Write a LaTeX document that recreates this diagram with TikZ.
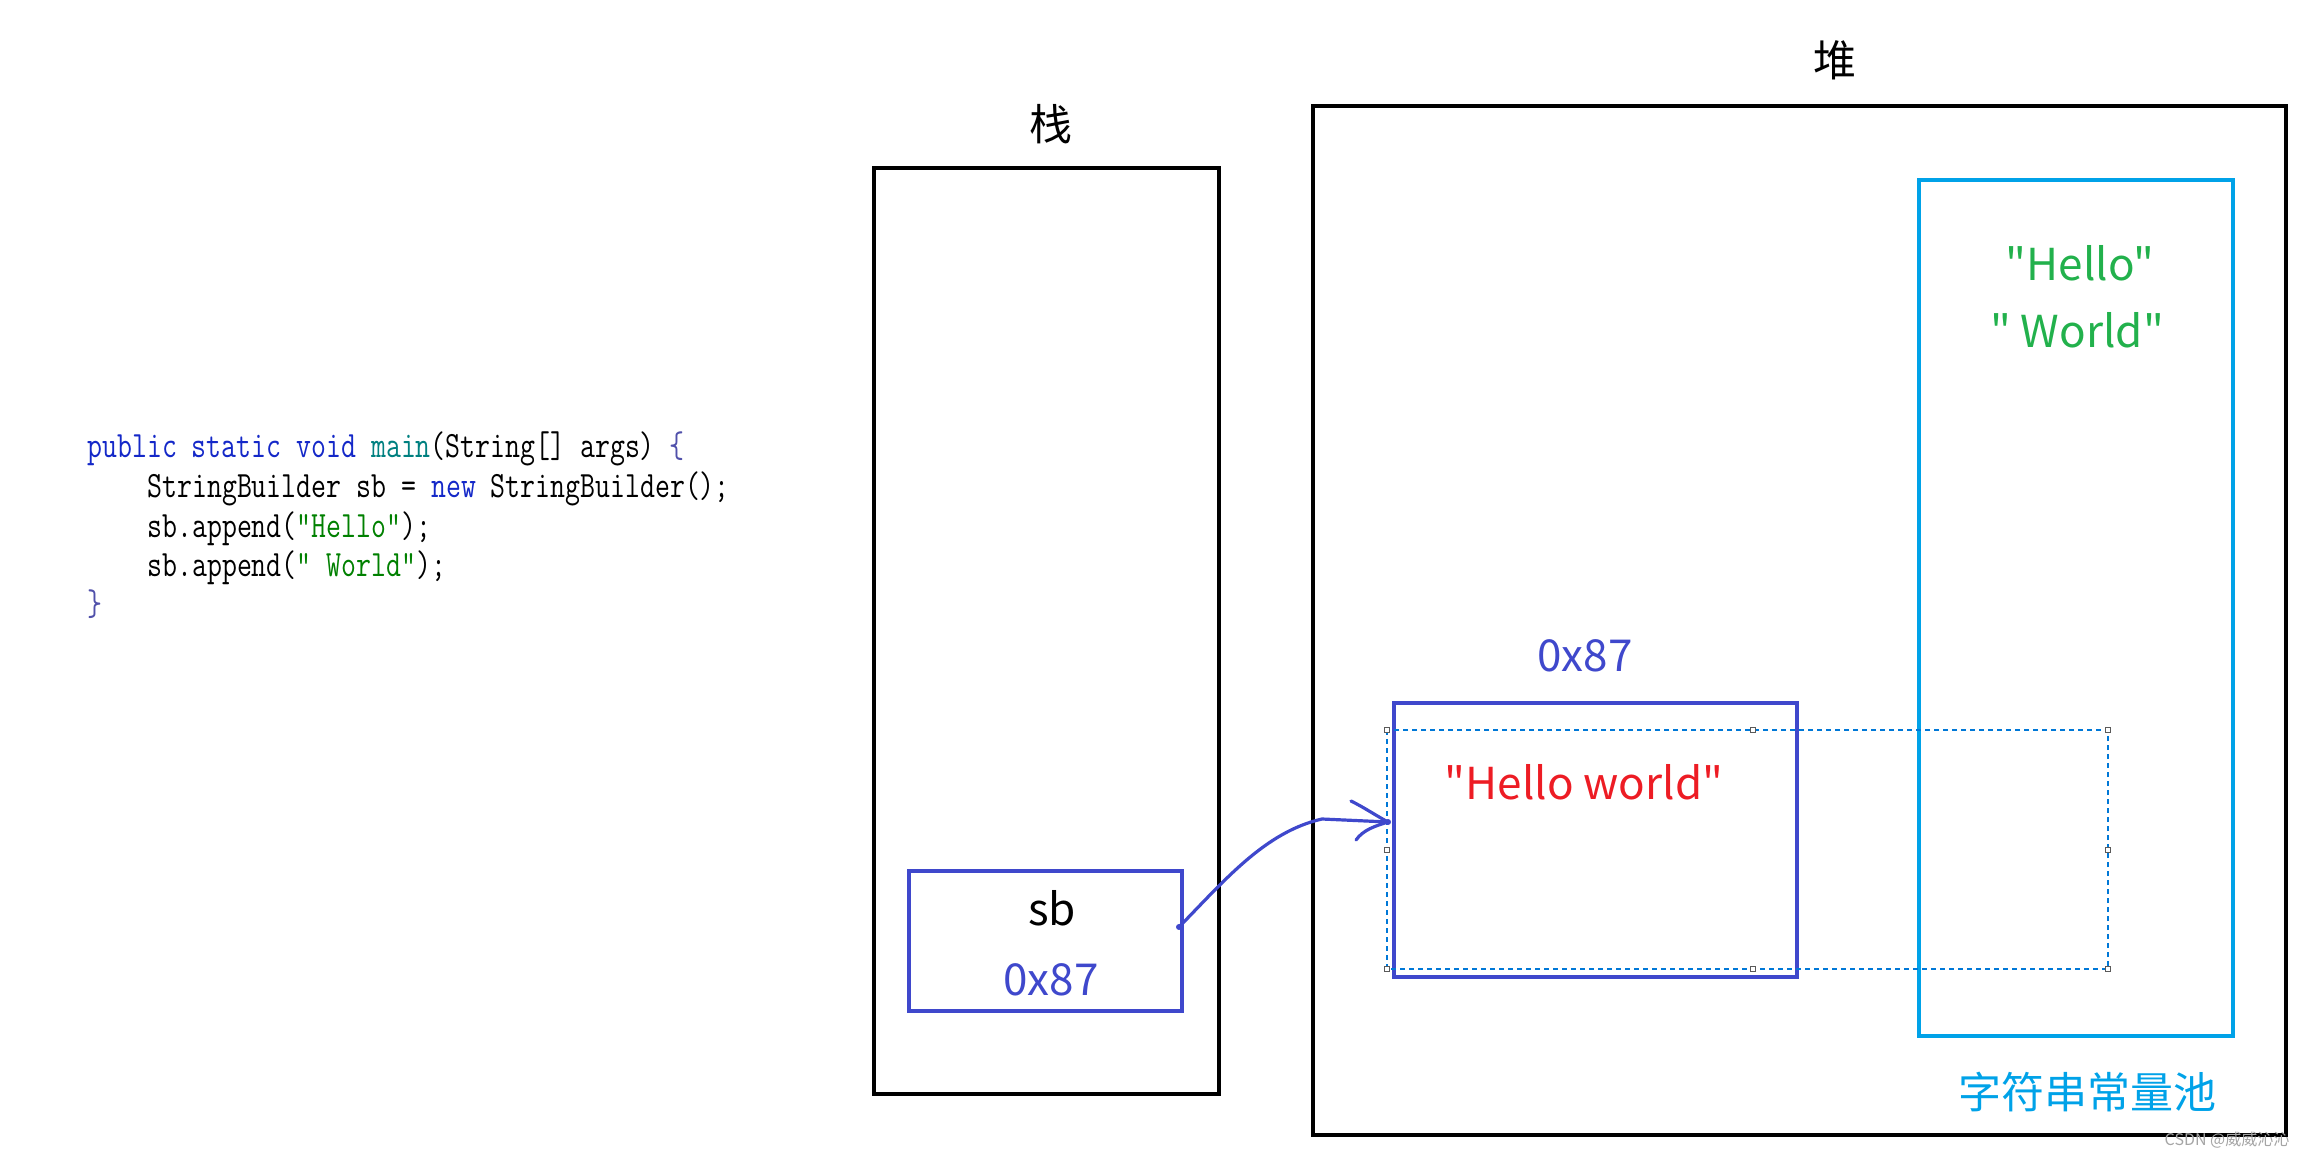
\documentclass[tikz,border=0pt]{standalone}
\usepackage{fontspec}
\usepackage{graphicx}
\setmainfont{Noto Sans CJK SC}[Ligatures=TeXOff]
\definecolor{objblue}{RGB}{63,72,204}
\definecolor{poolcyan}{RGB}{0,162,232}
\definecolor{strred}{RGB}{237,28,36}
\definecolor{strgreen}{RGB}{34,177,76}
\definecolor{kwblue}{RGB}{20,40,200}
\definecolor{kwteal}{RGB}{0,128,128}
\definecolor{codegreen}{RGB}{0,128,0}
\definecolor{bracecol}{RGB}{80,80,170}
\definecolor{selblue}{RGB}{0,120,215}
\definecolor{handlegray}{RGB}{90,90,90}
\newcommand{\codeline}[1]{\scalebox{1}[1.28]{\fontsize{14.5pt}{16pt}\selectfont\ttfamily #1}}
\tikzset{
  blackbox/.style={draw=black,line width=2pt},
  objbox/.style={draw=objblue,line width=2pt},
  poolbox/.style={draw=poolcyan,line width=2pt},
  bigtxt/.style={font=\fontsize{22pt}{26pt}\selectfont,inner sep=0pt},
  cjktxt/.style={font=\fontsize{21.5pt}{24pt}\selectfont,inner sep=0pt},
  codetxt/.style={inner sep=0pt,anchor=base west},
  handle/.style={draw=handlegray,fill=white,line width=0.5pt,minimum size=2.6pt,inner sep=0pt},
}
\begin{document}
\begin{tikzpicture}[x=0.5pt,y=-0.5pt]
\useasboundingbox (0,0) rectangle (2311,1159);
% code
\node[codetxt] (c1) at (87,458) {\codeline{\textcolor{kwblue}{public static void} \textcolor{kwteal}{main}(String[] args) \textcolor{bracecol}{\{}}};
\node[codetxt] (c2) at (147,498) {\codeline{StringBuilder sb = \textcolor{kwblue}{new} StringBuilder();}};
\node[codetxt] (c3) at (147,538) {\codeline{sb.append(\textcolor{codegreen}{"Hello"});}};
\node[codetxt] (c4) at (147,577) {\codeline{sb.append(\textcolor{codegreen}{" World"});}};
\node[codetxt] (c5) at (87,616) {\codeline{\textcolor{bracecol}{\}}}};
% stack
\draw[blackbox] (874,168) rectangle (1219,1094);
\node[cjktxt] (stacklbl) at (1051,124) {栈};
\draw[objbox] (909,871) rectangle (1182,1011);
\node (sbbox) at (1045.5,941) [minimum width=136pt,minimum height=70pt,inner sep=0pt] {};
\node[bigtxt,anchor=base] (sbname) at (1052,925) {sb};
\node[bigtxt,anchor=base,text=objblue] (sbaddr) at (1051,995) {0x87};
% heap
\draw[blackbox] (1313,106) rectangle (2286,1135);
\node[cjktxt] (heaplbl) at (1835,60) {堆};
% pool
\draw[poolbox] (1919,180) rectangle (2233,1036);
\node[bigtxt,anchor=base,text=strgreen] (h1) at (2080,281) {"Hello"};
\node[bigtxt,anchor=base,text=strgreen] (h2) at (2077,348) {" World"};
\node[cjktxt,text=poolcyan] (poollbl) at (2087,1092) {字符串常量池};
% object
\draw[objbox] (1394,703) rectangle (1797,977);
\node (objbox) at (1595.5,840) [minimum width=201.5pt,minimum height=137pt,inner sep=0pt] {};
\node[bigtxt,anchor=base,text=objblue] (objaddr) at (1585,671) {0x87};
\node[bigtxt,anchor=base,text=strred] (objval) at (1584,799) {"Hello world"};
% selection rectangle
\draw[selblue,line width=0.75pt,dash pattern=on 2.5pt off 2pt] (1387,730) rectangle (2108,969);
\foreach \p in {(1387,730),(1753,730),(2108,730),(1387,850),(2108,850),(1387,969),(1753,969),(2108,969)}
  \node[handle] at \p {};
% arrow
\coordinate (arrS) at (1179,927);
\coordinate (arrE) at (1388,822);
\draw[objblue,line width=1.6pt,line cap=round,line join=round]
  (arrS) .. controls (1225,880) and (1265,832) .. (1322,819) -- (arrE);
\draw[objblue,line width=1.6pt,line cap=round,line join=round]
  (1351,801) .. controls (1365,808) and (1375,815) .. (arrE)
  .. controls (1375,826) and (1363,830) .. (1356,840);
\fill[objblue] (arrE) circle (3);
\fill[objblue] (arrS) circle (3);
% watermark
\node[font=\fontsize{8pt}{9pt}\selectfont,text={rgb,255:red,165;green,165;blue,165},inner sep=0pt] (wm) at (2227,1140) {CSDN @威威沁沁};
\end{tikzpicture}
\end{document}
